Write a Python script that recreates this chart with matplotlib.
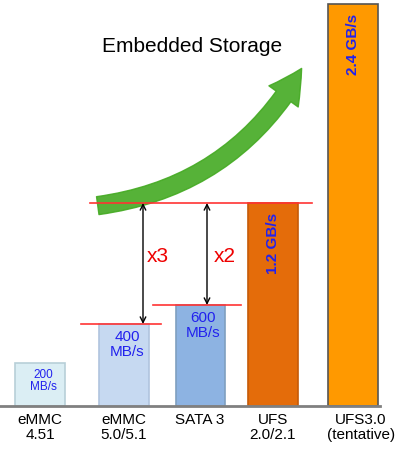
import matplotlib
matplotlib.use("Agg")
import matplotlib.pyplot as plt
from matplotlib.patches import FancyArrowPatch

categories = ["eMMC\n4.51", "eMMC\n5.0/5.1", "SATA 3", "UFS\n2.0/2.1", "UFS3.0\n(tentative)"]
speeds_mb = [200, 400, 600, 1200, 2400]
bar_labels = ["200\nMB/s", "400\nMB/s", "600\nMB/s", "1.2 GB/s", "2.4 GB/s"]
display_heights = [43, 82, 101, 203, 402]   # bar heights as drawn in the picture
centers = [40, 124, 200, 273, 353]
widths = [50, 50, 49, 50, 50]
colors = ["#dbeef4", "#c6d9f1", "#8db3e2", "#e46c0a", "#ff9900"]
edges = ["#b7cfd8", "#b0c4de", "#7f9fc0", "#c55a08", "#555555"]

W, H = 403, 459
fig = plt.figure(figsize=(W/100, H/100), dpi=100)
ax = fig.add_axes([0, 0, 1, 1])
base = 406
ax.set_xlim(0, W)
ax.set_ylim(-(H - base), base)
ax.axis("off")

ax.bar(centers, display_heights, width=widths, color=colors, edgecolor=edges, linewidth=1.2, zorder=2)
ax.plot([0, 380], [0, 0], color="#808080", lw=2, zorder=3)

fs_in = [8.5, 11, 11, 11, 11]
for i, (c, h, lab) in enumerate(zip(centers, display_heights, bar_labels)):
    if i < 3:
        ax.text(c + 3, h - 6, lab, ha="center", va="top", color="#2222ee", fontsize=fs_in[i],
                fontfamily="Liberation Sans", linespacing=1.05, zorder=4)
    else:
        ax.text(c, h - 10, lab, ha="center", va="top", rotation=90, color="#2222ee", fontsize=11,
                fontweight="bold", fontfamily="Liberation Sans", zorder=4)

for c, lab in zip(centers, categories):
    ax.text(c + (8 if "UFS3" in lab else 0), -7, lab, ha="center", va="top", fontsize=11,
            fontfamily="Liberation Sans", linespacing=1.05)

# red reference lines
ax.plot([90, 312], [203, 203], color="#ff3333", lw=1.2, zorder=5)
ax.plot([153, 241], [101, 101], color="#ff3333", lw=1.2, zorder=5)
ax.plot([81, 161], [82, 82], color="#ff3333", lw=1.2, zorder=5)
# black double arrows
for x, y0 in [(143, 82), (207, 101)]:
    ax.annotate("", xy=(x, y0), xytext=(x, 203),
                arrowprops=dict(arrowstyle="<->", color="black", lw=1, shrinkA=0, shrinkB=0), zorder=6)
ax.text(158, 150, "x3", color="#ee0000", fontsize=15, ha="center", va="center", fontfamily="Liberation Sans")
ax.text(225, 150, "x2", color="#ee0000", fontsize=15, ha="center", va="center", fontfamily="Liberation Sans")

# green arrow
arr = FancyArrowPatch((95, 200), (303, 340), connectionstyle="arc3,rad=0.25",
                      arrowstyle="simple,head_width=26,head_length=24,tail_width=13",
                      color="#44aa22", alpha=0.9, zorder=1, mutation_scale=1)
ax.add_patch(arr)

ax.text(192, 360, "Embedded Storage", fontsize=15, ha="center", va="center", fontfamily="Liberation Sans")

fig.savefig("out.png", dpi=100)
